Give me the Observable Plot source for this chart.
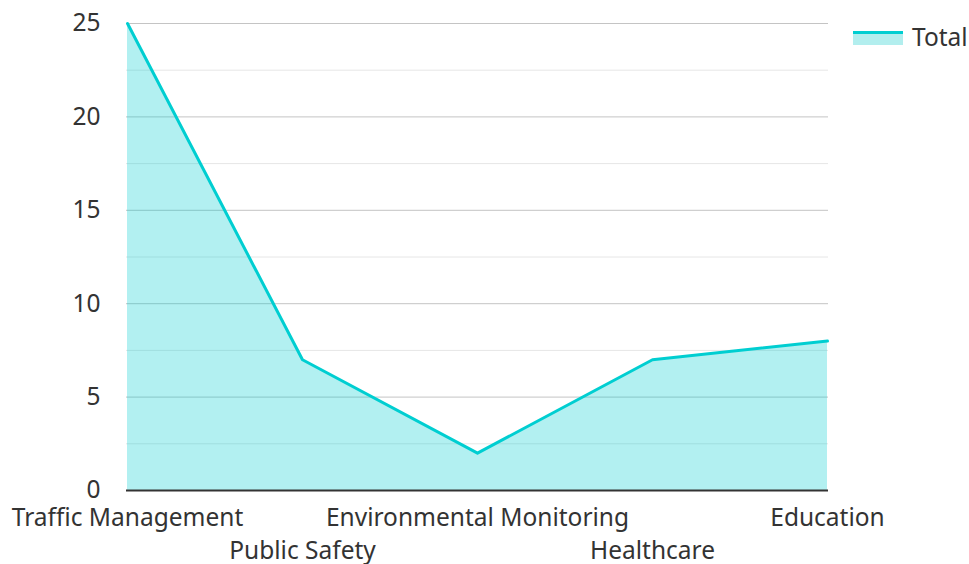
<!DOCTYPE html>
<html>
<head>
<meta charset="utf-8">
<script src="https://cdn.jsdelivr.net/npm/d3@7"></script>
<script src="https://cdn.jsdelivr.net/npm/@observablehq/plot@0.6"></script>
<style>
  html, body { margin: 0; padding: 0; background: #fff; }
  #wrap { position: relative; width: 969px; height: 564px; font-family: "Noto Sans", sans-serif; }
  #legend { position: absolute; left: 853px; top: 20px; display: flex; align-items: center; font-size: 24.5px; color: #333; white-space: nowrap; }
  #legend .sw { width: 50px; height: 14px; background: #b2eeee; border-top: 3px solid #00ced1; box-sizing: border-box; margin-right: 9px; margin-top: 2px; }
</style>
</head>
<body>
<div id="wrap"><div id="legend"><div class="sw"></div><span>Total</span></div></div>
<script>
const categories = ["Traffic Management", "Public Safety", "Environmental Monitoring", "Healthcare", "Education"];
const totals = [25, 7, 2, 7, 8];
const seriesName = "Total";
const yTicks = [0, 5, 10, 15, 20, 25];
const minorTicks = [2.5, 7.5, 12.5, 17.5, 22.5];

const data = categories.map((c, i) => ({category: c, value: totals[i]}));
const rowA = categories.filter((_, i) => i % 2 === 0);
const rowB = categories.filter((_, i) => i % 2 === 1);

const chart = Plot.plot({
  width: 969,
  height: 564,
  marginLeft: 126,
  marginRight: 141,
  marginTop: 23,
  marginBottom: 74,
  style: {fontFamily: "Noto Sans, sans-serif", fontSize: "24.5px", color: "#333", background: "#fff", overflow: "visible"},
  x: {type: "point", domain: categories, padding: 0},
  y: {domain: [0, 25]},
  marks: [
    Plot.ruleY(minorTicks, {stroke: "#e6e6e6", strokeWidth: 1}),
    Plot.ruleY(yTicks.filter(d => d > 0), {stroke: "#c4c4c4", strokeWidth: 1}),
    Plot.areaY(data, {x: "category", y: "value", fill: "#00ced1", fillOpacity: 0.3}),
    Plot.lineY(data, {x: "category", y: "value", stroke: "#00ced1", strokeWidth: 3}),
    Plot.ruleY([0], {stroke: "#333", strokeWidth: 2}),
    Plot.axisY({ticks: yTicks, tickSize: 0, tickPadding: 26, fontSize: 24.5, fill: "#333", label: null}),
    Plot.axisX({ticks: rowA, tickSize: 0, tickPadding: 18, fontSize: 24.5, fill: "#333", label: null}),
    Plot.axisX({ticks: rowB, tickSize: 0, tickPadding: 51, fontSize: 24.5, fill: "#333", label: null})
  ]
});
document.getElementById("wrap").prepend(chart);
</script>
</body>
</html>
